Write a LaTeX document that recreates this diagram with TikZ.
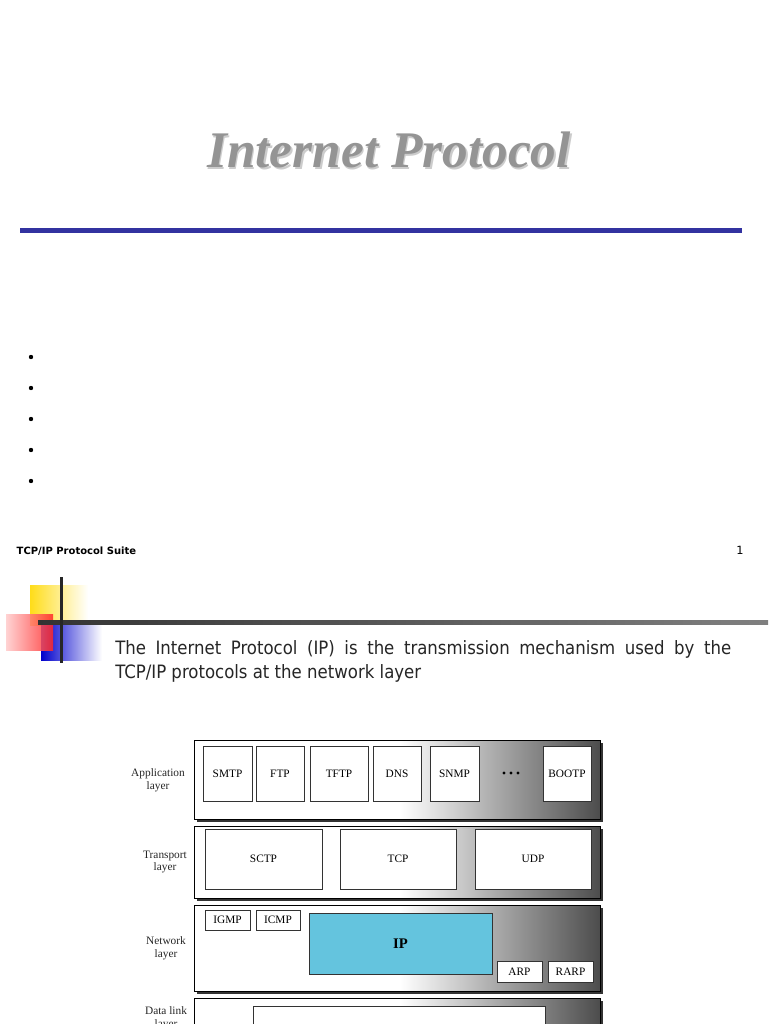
\documentclass[tikz,border=0pt]{standalone}
\usepackage{fontspec}
\setmainfont{Liberation Serif}
\newfontfamily\sans{DejaVu Sans}
\newfontfamily\tah{DejaVu Sans Condensed}
\definecolor{ipcyan}{RGB}{100,196,222}
\definecolor{rulebl}{RGB}{50,50,160}
\tikzset{x=0.75pt,y=-0.75pt,
 layer/.style={draw=black,line width=0.6pt},
 pbox/.style={draw=black!80,fill=white,line width=0.5pt,inner sep=0pt,font=\fontsize{8.5}{9}\selectfont},
 lbl/.style={align=center,font=\fontsize{8.5}{9.5}\selectfont,text=black!85}}
\begin{document}
\begin{tikzpicture}
\useasboundingbox (0,0) rectangle (768,1024);
\fill[white] (0,0) rectangle (768,1024);
% slide 1
\node at (390.5,151.5) {\fontsize{38.5}{40}\selectfont\bfseries\itshape\color{black!20}Internet Protocol};
\node (title) at (389,150) {\fontsize{38.5}{40}\selectfont\bfseries\itshape\color{black!42}Internet Protocol};
\fill[rulebl] (20,228) rectangle (742,233);
\foreach \y in {357,388,419,450,481} \fill (31,\y) circle (2.2);
\node[anchor=west,font=\sans\bfseries\fontsize{7.5}{9}\selectfont] (suite) at (12,551) {TCP/IP Protocol Suite};
\node[font=\sans\fontsize{8.5}{9}\selectfont] (pg) at (740,550) {1};
% slide 2 logo
\shade[left color=yellow!70!orange!90,right color=white] (30,585) rectangle (88,625);
\shade[left color=blue!80!black,right color=white] (41,625) rectangle (102,660);
\shade[left color=red!20,right color=red!85,opacity=0.85] (6,614) rectangle (53,650);
\shade[left color=black!80,right color=black!50] (38,620.5) rectangle (768,624);
\fill[black!85] (59.5,577) rectangle (62.5,663);
\node[anchor=north west,text width=462pt,align=justify,inner sep=0pt,font=\tah\fontsize{13.8}{18}\selectfont,text=black!85] (para) at (115,640) {The Internet Protocol (IP) is the transmission mechanism used by the\linebreak TCP/IP protocols at the network layer};
% layers
\foreach \a/\b in {740/819,826/898,905/991,998/1030}{
 \fill[black!80] (197,\a+3) rectangle (603,\b+3);
 \fill[white] (194,\a) rectangle (400,\b);
 \shade[left color=white,right color=black!70] (400,\a) rectangle (600,\b);
 \draw[layer] (194,\a) rectangle (600,\b);
}
\node[lbl] (la) at (158,780) {Application\\layer};
\node[lbl] (lt) at (165,862) {Transport\\layer};
\node[lbl] (ln) at (166,948) {Network\\layer};
\node[lbl] (ld) at (166,1018) {Data link\\layer};
% app
\foreach \n/\l/\r in {SMTP/203/252,FTP/256/304,TFTP/310/368,DNS/373/421,SNMP/430/479,BOOTP/543/591}
 \node[pbox,minimum width=(\r-\l)*0.75pt,minimum height=41.25pt] (\n) at ({(\l+\r)/2},773.5) {\n};
\node (dots) at (511,773) {};
\foreach \dx in {-7,0,7} \fill (511+\dx,773) circle (1.6);
\foreach \n/\l/\r in {SCTP/205/322,TCP/340/456,UDP/475/591}
 \node[pbox,minimum width=(\r-\l)*0.75pt,minimum height=45pt] (\n) at ({(\l+\r)/2},859) {\n};
\node[pbox,minimum width=33.75pt,minimum height=15pt] (IGMP) at (227.5,920) {IGMP};
\node[pbox,minimum width=33pt,minimum height=15pt] (ICMP) at (278,920) {ICMP};
\node[pbox,fill=ipcyan,minimum width=137.25pt,minimum height=45.75pt,font=\fontsize{11}{12}\selectfont\bfseries] (IP) at (400.5,943.5) {IP};
\node[pbox,minimum width=33.75pt,minimum height=15.75pt] (ARP) at (519.5,971.5) {ARP};
\node[pbox,minimum width=33.75pt,minimum height=15.75pt] (RARP) at (570.5,971.5) {RARP};
\draw[black!80,fill=white,line width=0.5pt] (253,1006) rectangle (545,1030);
\end{tikzpicture}
\end{document}
